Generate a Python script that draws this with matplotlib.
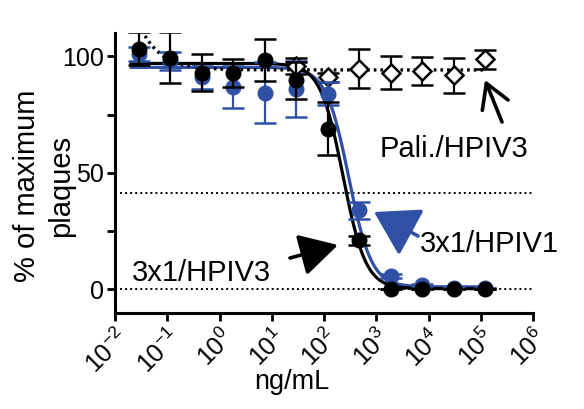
import numpy as np
import matplotlib
matplotlib.use("Agg")
import matplotlib.pyplot as plt

plt.rcParams['font.family'] = ['Liberation Sans', 'DejaVu Sans']
plt.rcParams['mathtext.fontset'] = 'custom'
plt.rcParams['mathtext.rm'] = 'Liberation Sans'

# 4-fold dilution series (ng/mL)
conc = [0.0286, 0.114, 0.458, 1.83, 7.32, 29.3, 117, 469, 1875, 7500, 30000, 120000]

# 3x1/HPIV3 (black)
hpiv3 = [103.4, 99.5, 93, 93, 98.4, 89.7, 69, 21, 0.3, 0.3, 0.3, 0.3]
hpiv3_err = [7, 11, 8, 6, 9, 8, 11.5, 2, 0, 0, 0, 0]

# 3x1/HPIV1 (blue)
hpiv1 = [101, 98, 91, 86.8, 84.5, 86, 84, 34, 5.7, 1.9, 0.8, 0.8]
hpiv1_err = [3, 4, 5, 9, 13, 12, 5, 3.7, 1, 0.5, 0, 0]

# Pali./HPIV3 (open diamonds, visible points only)
pali_conc = [29.3, 117, 469, 1875, 7500, 30000, 120000]
pali = [96, 91, 94.8, 93, 93.8, 92, 98.7]
pali_err = [3.5, 2, 8.5, 7, 6, 7.5, 4]

# fitted curve parameters: top, bottom, IC50, hill slope
fit_hpiv3 = (97.0, 0.3, 230.0, 2.0)
fit_hpiv1 = (95.3, 1.1, 295.0, 2.0)
fit_pali = (94.2, 6.1, 0.083, 1.1)   # plateau, rise, reference conc, exponent

ref_lines = [0, 41.5]

blue = '#3050a6'


def hill(x, top, bottom, ic50, h):
    return bottom + (top - bottom) / (1 + (x / ic50) ** h)


fig = plt.figure(figsize=(5.84, 4.09), dpi=100)
ax = fig.add_axes([0.197, 0.2355, 0.716, 0.6835])

for r in ref_lines:
    ax.axhline(r, color='black', lw=1.4, ls=(0, (1, 1.6)), zorder=1)

xs = np.logspace(np.log10(conc[0]) - 0.15, np.log10(conc[-1]) + 0.05, 400)
ax.plot(xs, hill(xs, *fit_hpiv1), color=blue, lw=2.3, zorder=2)
ax.plot(xs, hill(xs, *fit_hpiv3), color='black', lw=2.3, zorder=3)

xp = np.logspace(np.log10(conc[0]), np.log10(conc[-1]), 400)
plateau, rise, x0, n = fit_pali
ax.plot(xp, plateau + rise * (x0 / xp) ** n, color='black', lw=2.4,
        ls=(0, (0.8, 1.2)), zorder=2)

ax.errorbar(pali_conc, pali, yerr=pali_err, fmt='D', ms=9.5, mfc='white',
            mec='black', mew=1.8, color='black', elinewidth=1.6,
            capsize=8, capthick=1.8, zorder=4)
ax.errorbar(conc, hpiv1, yerr=hpiv1_err, fmt='o', ms=10.5, color=blue,
            elinewidth=1.6, capsize=8, capthick=1.8, zorder=5)
ax.errorbar(conc, hpiv3, yerr=hpiv3_err, fmt='o', ms=10.5, color='black',
            elinewidth=1.6, capsize=8, capthick=1.8, zorder=6)

ax.set_xscale('log')
ax.set_xlim(1e-2, 1e6)
ax.set_ylim(-10, 110)
ax.set_xticks([10.0 ** k for k in range(-2, 7)])
ax.set_yticks([0, 50, 100])
ax.set_yticks([25, 75], minor=True)
ax.spines['top'].set_visible(False)
ax.spines['right'].set_visible(False)
for s in ['left', 'bottom']:
    ax.spines[s].set_linewidth(2.2)
ax.tick_params(axis='y', which='major', width=2, length=6, labelsize=18,
               direction='out', pad=2)
ax.tick_params(axis='x', which='major', width=2, length=6, labelsize=18,
               direction='out', pad=3)
ax.tick_params(axis='y', which='minor', width=2, length=6)
ax.tick_params(axis='x', which='minor', width=1.5, length=4)
for lab in ax.get_xticklabels():
    lab.set_rotation(45)
    lab.set_ha('right')
    lab.set_va('top')
    lab.set_rotation_mode('anchor')

ax.set_ylabel('% of maximum\nplaques', fontsize=21, linespacing=1.3)
ax.yaxis.set_label_coords(-0.095, 0.453)
ax.set_xlabel('ng/mL', fontsize=19.5)
ax.xaxis.set_label_coords(0.423, -0.2)

# annotations (figure pixel coordinates)
ax.text(380, 252, 'Pali./HPIV3', fontsize=21, transform=None, va='baseline')
ax.text(420, 157, '3x1/HPIV1', fontsize=21, transform=None, va='baseline')
ax.text(132, 128, '3x1/HPIV3', fontsize=21, transform=None, va='baseline')

ax.annotate('', xy=(485, 329), xytext=(502, 287), xycoords='figure pixels',
            textcoords='figure pixels',
            arrowprops=dict(arrowstyle='->,head_length=1.7,head_width=1.0',
                            lw=2.6, color='black', mutation_scale=10,
                            shrinkA=0, shrinkB=0))
ax.annotate('', xy=(374, 197), xytext=(418, 173), xycoords='figure pixels',
            textcoords='figure pixels',
            arrowprops=dict(arrowstyle='-|>,head_length=2.7,head_width=1.65',
                            lw=2.6, color=blue, mutation_scale=10,
                            shrinkA=0, shrinkB=0))
ax.annotate('', xy=(338, 164), xytext=(290, 151), xycoords='figure pixels',
            textcoords='figure pixels',
            arrowprops=dict(arrowstyle='-|>,head_length=2.35,head_width=1.3',
                            lw=2.6, color='black', mutation_scale=10,
                            shrinkA=0, shrinkB=0))

fig.savefig('out.png', dpi=100)
